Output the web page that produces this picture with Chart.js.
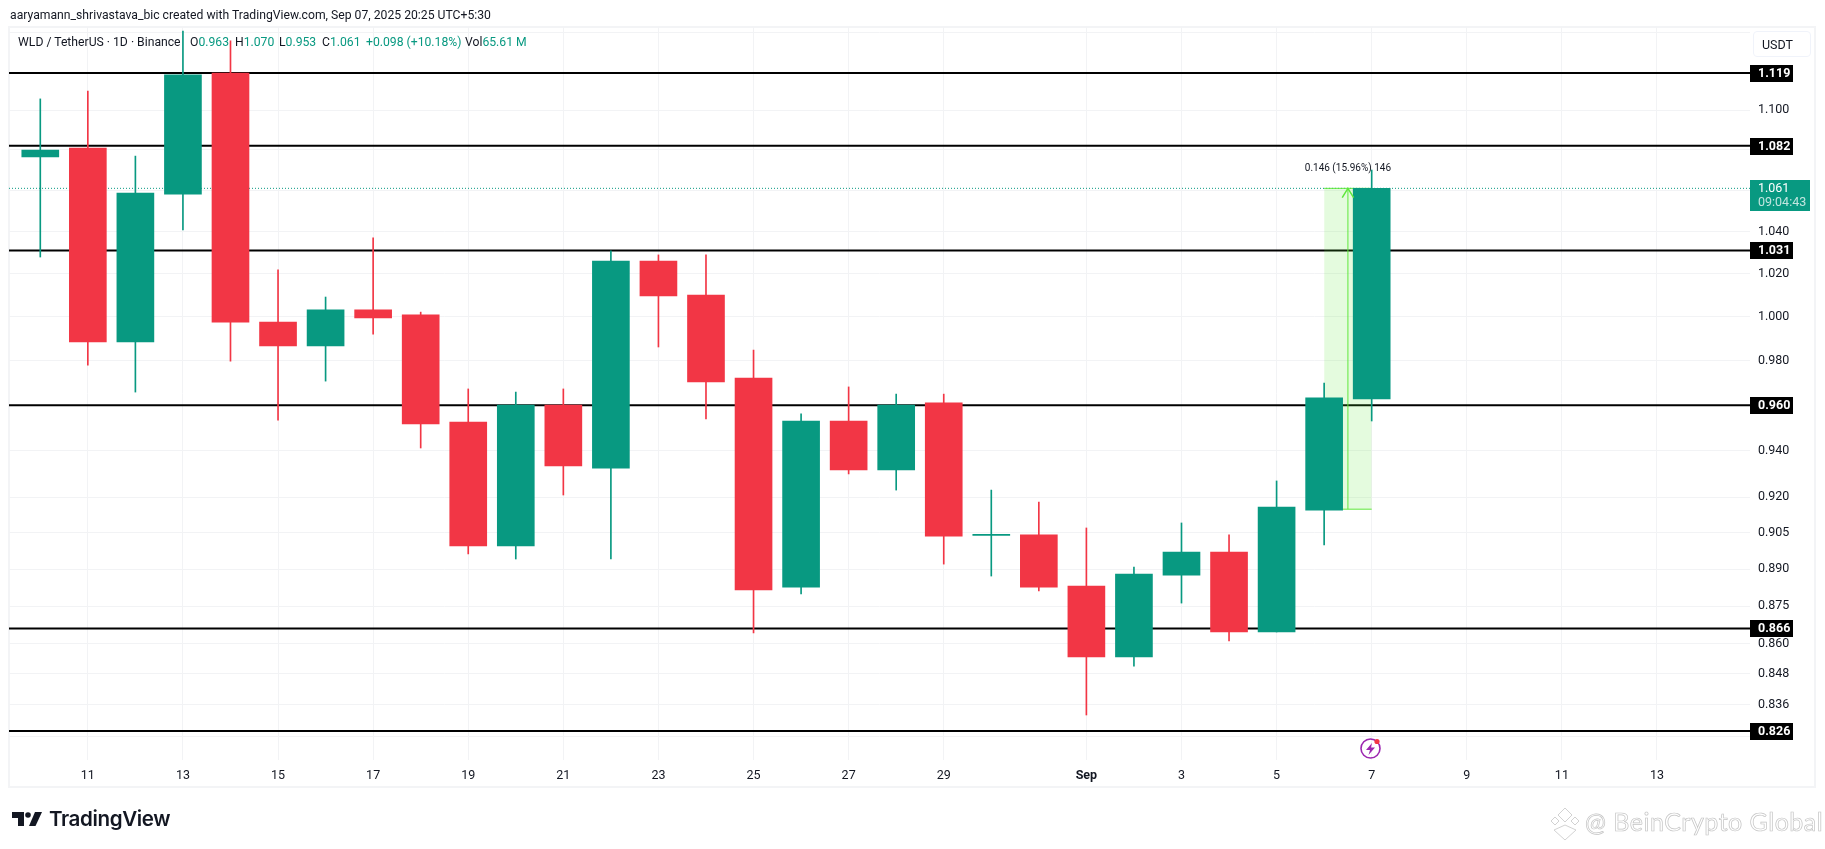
<!DOCTYPE html>
<html>
<head>
<meta charset="utf-8">
<title>WLD / TetherUS</title>
<script src="https://cdn.jsdelivr.net/npm/chart.js@4/dist/chart.umd.min.js"></script>
<style>
html, body { margin: 0; padding: 0; background: #fff; overflow: hidden; }
body { width: 1825px; height: 849px; position: relative; font-family: Roboto, sans-serif; color: #131722; }
#chart { position: absolute; left: 0; top: 0; }
.frame { position: absolute; left: 8px; top: 26px; width: 1804px; height: 758px; border: 2px solid #f3f4f6; }
.txt { position: absolute; white-space: nowrap; font-size: 12.2px; line-height: 16px; }
.up { color: #089981; }
.usdt { position: absolute; left: 1753px; top: 31px; width: 56px; height: 24px; border: 1px solid #f0f3fa; border-radius: 4px; font-size: 12.5px; line-height: 26px; text-indent: 8px; }
.tv { position: absolute; left: 49px; top: 805px; font: 600 20.6px/28px Inter, sans-serif; letter-spacing: -0.4px; white-space: nowrap; }
.mark { position: absolute; left: 1585px; top: 804px; font: 400 25px/34px Lato, sans-serif; color: #fff; -webkit-text-stroke: 0.7px #c4c4c4; letter-spacing: 0.5px; white-space: nowrap; }
svg { position: absolute; overflow: visible; }
</style>
</head>
<body>
<div class="frame"></div>
<canvas id="chart" width="1825" height="849"></canvas>

<div class="txt" style="left:10px;top:7px">aaryamann_shrivastava_bic created with TradingView.com, Sep 07, 2025 20:25 UTC+5:30</div>
<div class="txt" style="left:18px;top:34px">WLD / TetherUS · 1D · Binance</div>
<div class="txt" style="left:190px;top:34px">O<span class="up">0.963</span></div>
<div class="txt" style="left:235px;top:34px">H<span class="up">1.070</span></div>
<div class="txt" style="left:279px;top:34px">L<span class="up">0.953</span></div>
<div class="txt" style="left:322px;top:34px">C<span class="up">1.061</span></div>
<div class="txt up" style="left:366px;top:34px">+0.098 (+10.18%)</div>
<div class="txt" style="left:465px;top:34px">Vol<span class="up">65.61 M</span></div>
<div class="usdt">USDT</div>

<svg style="left:0;top:0" width="1825" height="849">
  <g fill="#131722">
    <path d="M12 812H24V826H18V818H12Z"/>
    <circle cx="28" cy="815" r="2.8"/>
    <path d="M35 812H42L35.5 826H29Z"/>
  </g>
  <circle cx="1370.5" cy="748.5" r="9.5" fill="none" stroke="#9c27b0" stroke-width="1.6"/>
  <path d="M1372 743L1366 750H1370L1368.5 755L1375 747.5H1371Z" fill="#9c27b0"/>
  <circle cx="1377" cy="741.5" r="2.6" fill="#f23645"/>
  <g fill="#fff" stroke="#d2d2d2" stroke-width="1">
    <path d="M1565 808L1572 815L1565 822L1558 815Z"/>
    <path d="M1555 817L1559 821L1555 825L1551 821Z"/>
    <path d="M1575 817L1579 821L1575 825L1571 821Z"/>
    <path d="M1565 825L1576 830L1565 840L1554 830Z"/>
  </g>
</svg>
<div class="tv">TradingView</div>
<div class="mark">@ BeinCrypto Global</div>

<script>
// one entry per daily candle, Aug 10 to Sep 7
const days = ['Aug 10','Aug 11','Aug 12','Aug 13','Aug 14','Aug 15','Aug 16','Aug 17','Aug 18','Aug 19',
    'Aug 20','Aug 21','Aug 22','Aug 23','Aug 24','Aug 25','Aug 26','Aug 27','Aug 28','Aug 29',
    'Aug 30','Aug 31','Sep 1','Sep 2','Sep 3','Sep 4','Sep 5','Sep 6','Sep 7'];
const opens = [1.0765,1.0809,0.9884,1.0582,1.119,0.9975,0.9866,1.0031,1.0008,0.9525,
    0.8996,0.960,0.9325,1.026,1.010,0.9721,0.8827,0.9530,0.9317,0.9610,
    0.9040,0.9042,0.8831,0.8547,0.8876,0.8971,0.8646,0.9146,0.9627];
const highs = [1.1057,1.1097,1.0769,1.1409,1.1357,1.0218,1.0091,1.037,1.0021,0.9672,
    0.9658,0.9672,1.0308,1.0289,1.0289,0.9847,0.9561,0.9681,0.9649,0.9649,
    0.9231,0.918,0.9071,0.8909,0.9092,0.9042,0.927,0.9698,1.070];
const lows = [1.0279,0.9779,0.9658,1.0408,0.9797,0.9534,0.9707,0.992,0.9412,0.8963,
    0.8942,0.921,0.8942,0.9861,0.9539,0.8642,0.8799,0.930,0.9231,0.8921,
    0.8872,0.8811,0.8321,0.8511,0.8762,0.861,0.8646,0.900,0.953];
const closes = [1.0799,0.9884,1.0587,1.118,0.9975,0.9866,1.0031,0.9994,0.9517,0.8996,
    0.960,0.9334,1.026,1.0096,0.9703,0.8815,0.9530,0.9317,0.960,0.9037,
    0.9042,0.8827,0.8547,0.888,0.8971,0.8646,0.9159,0.9632,1.061];

const levels = [1.119, 1.082, 1.031, 0.960, 0.866, 0.826];
const lastPrice = 1.061;
const lastPriceLabel = '1.061';
const countdown = '09:04:43';

// measure tool: rise from the Sep 6 close to the Sep 7 close
const measureFrom = 27;
const measureTo = 28;
const measureMid = 27.5;
const measureLow = 0.915;
const measureHigh = 1.061;
const measureLabel = '0.146 (15.96%) 146';
const arrowTipX = [27.38, 27.5, 27.62];
const arrowTipY = [1.0565, 1.061, 1.0565];

const priceGrid = [1.14,1.10,1.08,1.06,1.04,1.02,1.00,0.98,0.96,0.94,0.92,0.905,0.89,0.875,0.86,0.848,0.836,0.824];
const priceLabels = ['','1.100','','','1.040','1.020','1.000','0.980','','0.940','0.920','0.905','0.890','0.875','0.860','0.848','0.836',''];
const timeTicks = [1,3,5,7,9,11,13,15,17,19,22,24,26,28,30,32,34];
const timeLabels = ['11','13','15','17','19','21','23','25','27','29','Sep','3','5','7','9','11','13'];

const UP = '#089981';
const DOWN = '#f23645';
const GRID = '#f2f3f5';
const X_MIN = -0.658;
const X_MAX = 35.956;

const barColors = opens.map((o, i) => closes[i] >= o ? UP : DOWN);

const levelSets = levels.map(v => ({
    type: 'line',
    data: [{ x: X_MIN, y: v }, { x: X_MAX, y: v }],
    borderColor: '#000',
    borderWidth: 2,
    pointRadius: 0,
    order: 9
}));

const datasets = [
    ...levelSets,
    {
        type: 'line',
        data: [{ x: X_MIN, y: lastPrice }, { x: X_MAX, y: lastPrice }],
        borderColor: UP,
        borderWidth: 1,
        borderDash: [1, 2],
        pointRadius: 0,
        order: 8
    },
    {
        type: 'line',
        data: [{ x: measureFrom, y: measureHigh }, { x: measureTo, y: measureHigh }],
        borderColor: '#5fe83c',
        borderWidth: 1,
        pointRadius: 0,
        backgroundColor: 'rgba(90, 230, 50, 0.16)',
        fill: '+1',
        order: 7
    },
    {
        type: 'line',
        data: [{ x: measureFrom, y: measureLow }, { x: measureTo, y: measureLow }],
        borderColor: '#5fe83c',
        borderWidth: 1,
        pointRadius: 0,
        order: 7
    },
    {
        type: 'bar',
        data: days.map((_, i) => ({ x: i, y: [lows[i], highs[i]] })),
        backgroundColor: barColors,
        barThickness: 1,
        grouped: false,
        order: 4
    },
    {
        type: 'bar',
        data: days.map((_, i) => ({ x: i, y: [opens[i], closes[i]] })),
        backgroundColor: barColors,
        barThickness: 37,
        minBarLength: 1,
        grouped: false,
        order: 3
    },
    {
        type: 'line',
        data: [{ x: measureMid, y: measureLow }, { x: measureMid, y: measureHigh }],
        borderColor: '#5fe83c',
        borderWidth: 1,
        pointRadius: 0,
        order: 2
    },
    {
        type: 'line',
        data: arrowTipX.map((x, i) => ({ x: x, y: arrowTipY[i] })),
        borderColor: '#5fe83c',
        borderWidth: 1.5,
        pointRadius: 0,
        order: 2
    }
];

// price tags on the right axis and the measure caption
const tagsPlugin = {
    id: 'tags',
    afterDraw(chart) {
        const ctx = chart.ctx;
        const y = chart.scales.y;
        const x = chart.scales.x;
        const left = chart.chartArea.right;
        ctx.save();
        ctx.textBaseline = 'middle';
        ctx.textAlign = 'left';
        levels.forEach(v => {
            const py = Math.round(y.getPixelForValue(v));
            ctx.fillStyle = '#000';
            ctx.fillRect(left, py - 8, 43, 17);
            ctx.fillStyle = '#fff';
            ctx.font = 'bold 12.5px Roboto';
            ctx.fillText(v.toFixed(3), left + 8, py + 1);
        });
        const py = Math.round(y.getPixelForValue(lastPrice));
        ctx.fillStyle = UP;
        ctx.fillRect(left, py - 8, 60, 31);
        ctx.fillStyle = '#fff';
        ctx.font = '12.5px Roboto';
        ctx.fillText(lastPriceLabel, left + 8, py + 1);
        ctx.fillStyle = 'rgba(255,255,255,0.75)';
        ctx.fillText(countdown, left + 8, py + 15);
        ctx.fillStyle = '#131722';
        ctx.font = '10px Roboto';
        ctx.textAlign = 'center';
        ctx.fillText(measureLabel, x.getPixelForValue(measureMid), y.getPixelForValue(measureHigh) - 20);
        ctx.restore();
    }
};

new Chart(document.getElementById('chart'), {
    type: 'bar',
    data: { datasets: datasets },
    plugins: [tagsPlugin],
    options: {
        responsive: false,
        animation: false,
        events: [],
        layout: { padding: { left: 9, top: 27, right: 15, bottom: 61 } },
        plugins: { legend: { display: false }, tooltip: { enabled: false } },
        scales: {
            x: {
                type: 'linear',
                min: X_MIN,
                max: X_MAX,
                offset: false,
                afterFit(scale) { scale.height = 28; },
                afterBuildTicks(scale) { scale.ticks = timeTicks.map(v => ({ value: v })); },
                grid: { color: GRID, offset: false, drawTicks: false },
                border: { display: false },
                ticks: {
                    autoSkip: false,
                    maxRotation: 0,
                    padding: 8,
                    color: '#131722',
                    font: ctx => ({ family: 'Roboto', size: 12.5, weight: ctx.tick && ctx.tick.label === 'Sep' ? 'bold' : 'normal' }),
                    callback: (value) => timeLabels[timeTicks.indexOf(value)]
                }
            },
            y: {
                type: 'logarithmic',
                position: 'right',
                min: 0.815,
                max: 1.143,
                afterFit(scale) { scale.width = 60; },
                afterBuildTicks(scale) { scale.ticks = priceGrid.map(v => ({ value: v })); },
                grid: { color: GRID, drawTicks: false },
                border: { display: false },
                ticks: {
                    autoSkip: false,
                    padding: 8,
                    color: '#131722',
                    font: { family: 'Roboto', size: 12.5 },
                    callback: (value) => priceLabels[priceGrid.indexOf(value)]
                }
            }
        }
    }
});
</script>
</body>
</html>
